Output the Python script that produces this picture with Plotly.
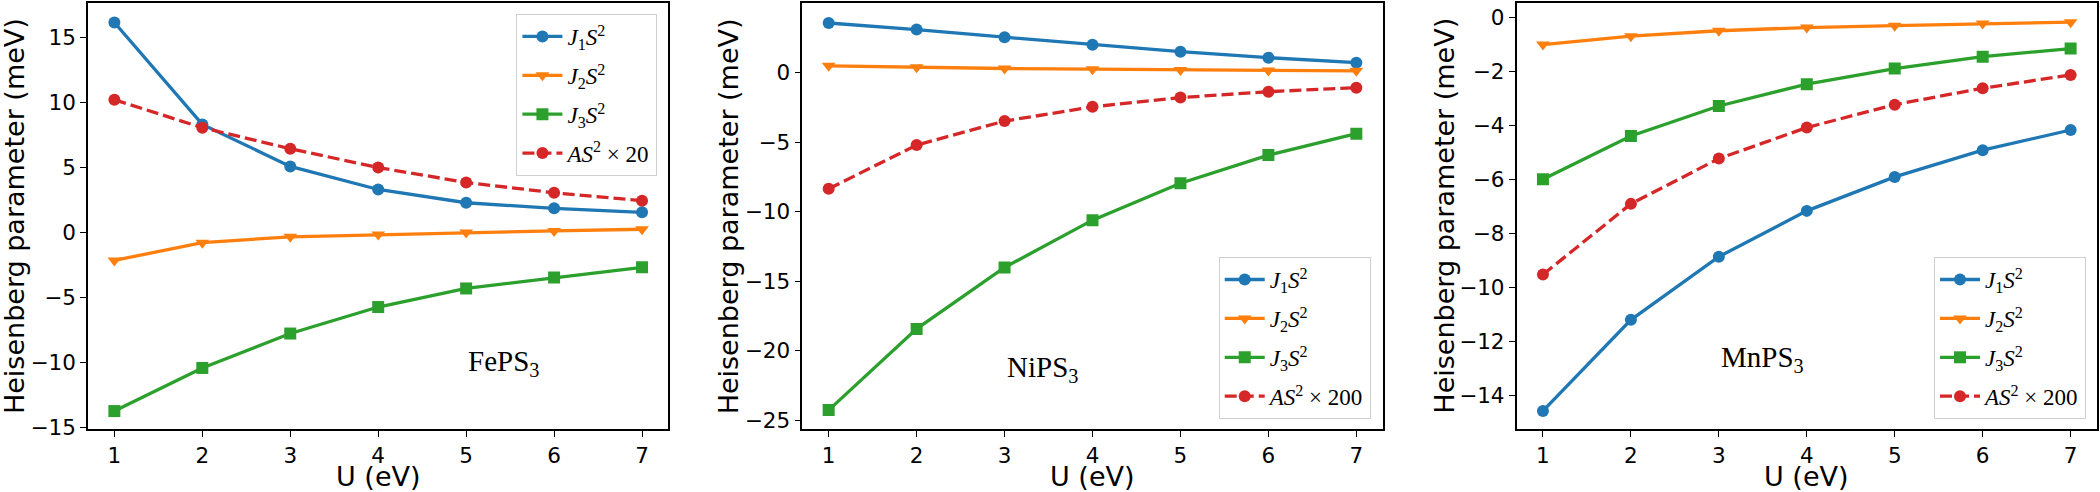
import plotly.graph_objects as go

# ---------------- data ----------------
U = [1, 2, 3, 4, 5, 6, 7]

fe_J1 = [16.15, 8.30, 5.07, 3.29, 2.27, 1.84, 1.53]
fe_J2 = [-2.17, -0.80, -0.35, -0.18, -0.02, 0.10, 0.23]
fe_J3 = [-13.77, -10.45, -7.80, -5.76, -4.33, -3.49, -2.70]
fe_A = [10.20, 8.05, 6.43, 4.98, 3.83, 3.04, 2.43]

ni_J1 = [3.56, 3.09, 2.54, 2.00, 1.50, 1.07, 0.71]
ni_J2 = [0.48, 0.38, 0.29, 0.24, 0.19, 0.14, 0.12]
ni_J3 = [-24.28, -18.44, -14.02, -10.62, -7.96, -5.94, -4.40]
ni_A = [-8.36, -5.22, -3.49, -2.47, -1.80, -1.38, -1.09]

mn_J1 = [-14.59, -11.21, -8.87, -7.17, -5.91, -4.92, -4.17]
mn_J2 = [-1.00, -0.69, -0.49, -0.37, -0.30, -0.22, -0.17]
mn_J3 = [-6.00, -4.39, -3.28, -2.47, -1.89, -1.45, -1.15]
mn_A = [-9.53, -6.91, -5.23, -4.08, -3.23, -2.62, -2.13]

names = ["<i>J</i><sub>1</sub><i>S</i><sup>2</sup>",
         "<i>J</i><sub>2</sub><i>S</i><sup>2</sup>",
         "<i>J</i><sub>3</sub><i>S</i><sup>2</sup>"]
a_names = ["<i>AS</i><sup>2</sup> \u00d7 20",
           "<i>AS</i><sup>2</sup> \u00d7 200",
           "<i>AS</i><sup>2</sup> \u00d7 200"]
materials = ["FePS<sub>3</sub>", "NiPS<sub>3</sub>", "MnPS<sub>3</sub>"]
label_pos = [(5, -10.1), (3, -21.3), (3, -12.65)]

y_ranges = [[-15.15, 17.65], [-25.64, 5.0], [-15.26, 0.54]]
y_ticks = [list(range(-15, 16, 5)), list(range(-25, 1, 5)), list(range(-14, 1, 2))]

panels = [
    (fe_J1, fe_J2, fe_J3, fe_A),
    (ni_J1, ni_J2, ni_J3, ni_A),
    (mn_J1, mn_J2, mn_J3, mn_A),
]

colors = ["#1f77b4", "#ff7f0e", "#2ca02c", "#d62728"]
symbols = ["circle", "triangle-down", "square", "circle"]

# ---------------- layout geometry ----------------
W, H = 2100, 492
ML, MR, MT, MB = 88, 1, 1, 63
PW = W - ML - MR
PH = H - MT - MB


def px_x(p):
    return (p - ML) / PW


def px_y(p):
    return (H - MB - p) / PH


domains = [[px_x(88), px_x(669)], [px_x(803), px_x(1384)], [px_x(1518), px_x(2099)]]

fig = go.Figure()

legend_ids = ["legend", "legend2", "legend3"]
tick_font = dict(family="DejaVu Sans", size=21.5, color="black")
serif = "Liberation Serif"

for i, series in enumerate(panels):
    xa = "x" if i == 0 else f"x{i+1}"
    ya = "y" if i == 0 else f"y{i+1}"
    for k, vals in enumerate(series):
        nm = names[k] if k < 3 else a_names[i]
        fig.add_trace(go.Scatter(
            x=U, y=vals, xaxis=xa, yaxis=ya, name=nm,
            mode="lines+markers",
            line=dict(color=colors[k], width=3.3, dash="12px,5px" if k == 3 else "solid"),
            marker=dict(symbol=symbols[k], size=12, color=colors[k], line=dict(width=0)),
            legend=legend_ids[i], legendgroup=f"g{i}{k}",
        ))

axis_common = dict(
    showline=True, linecolor="black", linewidth=1.5, mirror=True,
    ticks="outside", ticklen=6, tickwidth=1.3, tickcolor="black",
    showgrid=False, zeroline=False, tickfont=tick_font,
)

layout = dict(
    width=W, height=H,
    margin=dict(l=ML, r=MR, t=MT, b=MB, pad=0),
    paper_bgcolor="white", plot_bgcolor="white",
    showlegend=True,
    font=dict(family="DejaVu Sans", color="black"),
)

legend_boxes = [
    dict(x=px_x(658), y=px_y(12), xanchor="right", yanchor="top"),
    dict(x=px_x(1372), y=px_y(419), xanchor="right", yanchor="bottom"),
    dict(x=px_x(2088), y=px_y(419), xanchor="right", yanchor="bottom"),
]

for i in range(3):
    xk = "xaxis" if i == 0 else f"xaxis{i+1}"
    yk = "yaxis" if i == 0 else f"yaxis{i+1}"
    layout[xk] = dict(axis_common, domain=domains[i], range=[0.7, 7.3],
                      tickmode="array", tickvals=U,
                      anchor="y" if i == 0 else f"y{i+1}")
    layout[yk] = dict(axis_common, domain=[0, 1], range=y_ranges[i],
                      tickmode="array", tickvals=y_ticks[i],
                      anchor="x" if i == 0 else f"x{i+1}")
    lg = dict(legend_boxes[i])
    lg.update(bgcolor="rgba(255,255,255,0.8)", bordercolor="#d0d0d0", borderwidth=1,
              font=dict(family=serif, size=23, color="black"),
              tracegroupgap=6, itemwidth=40)
    layout[legend_ids[i]] = lg

fig.update_layout(**layout)

ytitle_x = [14, 729, 1445]
for i in range(3):
    fig.add_annotation(text="Heisenberg parameter (meV)", textangle=-90,
                       xref="paper", yref="paper", x=px_x(ytitle_x[i]), y=0.5,
                       xanchor="center", yanchor="middle", showarrow=False,
                       font=dict(family="DejaVu Sans", size=27, color="black"))
    fig.add_annotation(text="U (eV)", xref="paper", yref="paper",
                       x=(domains[i][0] + domains[i][1]) / 2, y=px_y(477),
                       xanchor="center", yanchor="middle", showarrow=False,
                       font=dict(family="DejaVu Sans", size=27, color="black"))
    xr = "x" if i == 0 else f"x{i+1}"
    yr = "y" if i == 0 else f"y{i+1}"
    fig.add_annotation(text=materials[i], xref=xr, yref=yr,
                       x=label_pos[i][0], y=label_pos[i][1],
                       xanchor="left", yanchor="middle", showarrow=False,
                       font=dict(family=serif, size=29, color="black"))

fig.write_html("out.html")
